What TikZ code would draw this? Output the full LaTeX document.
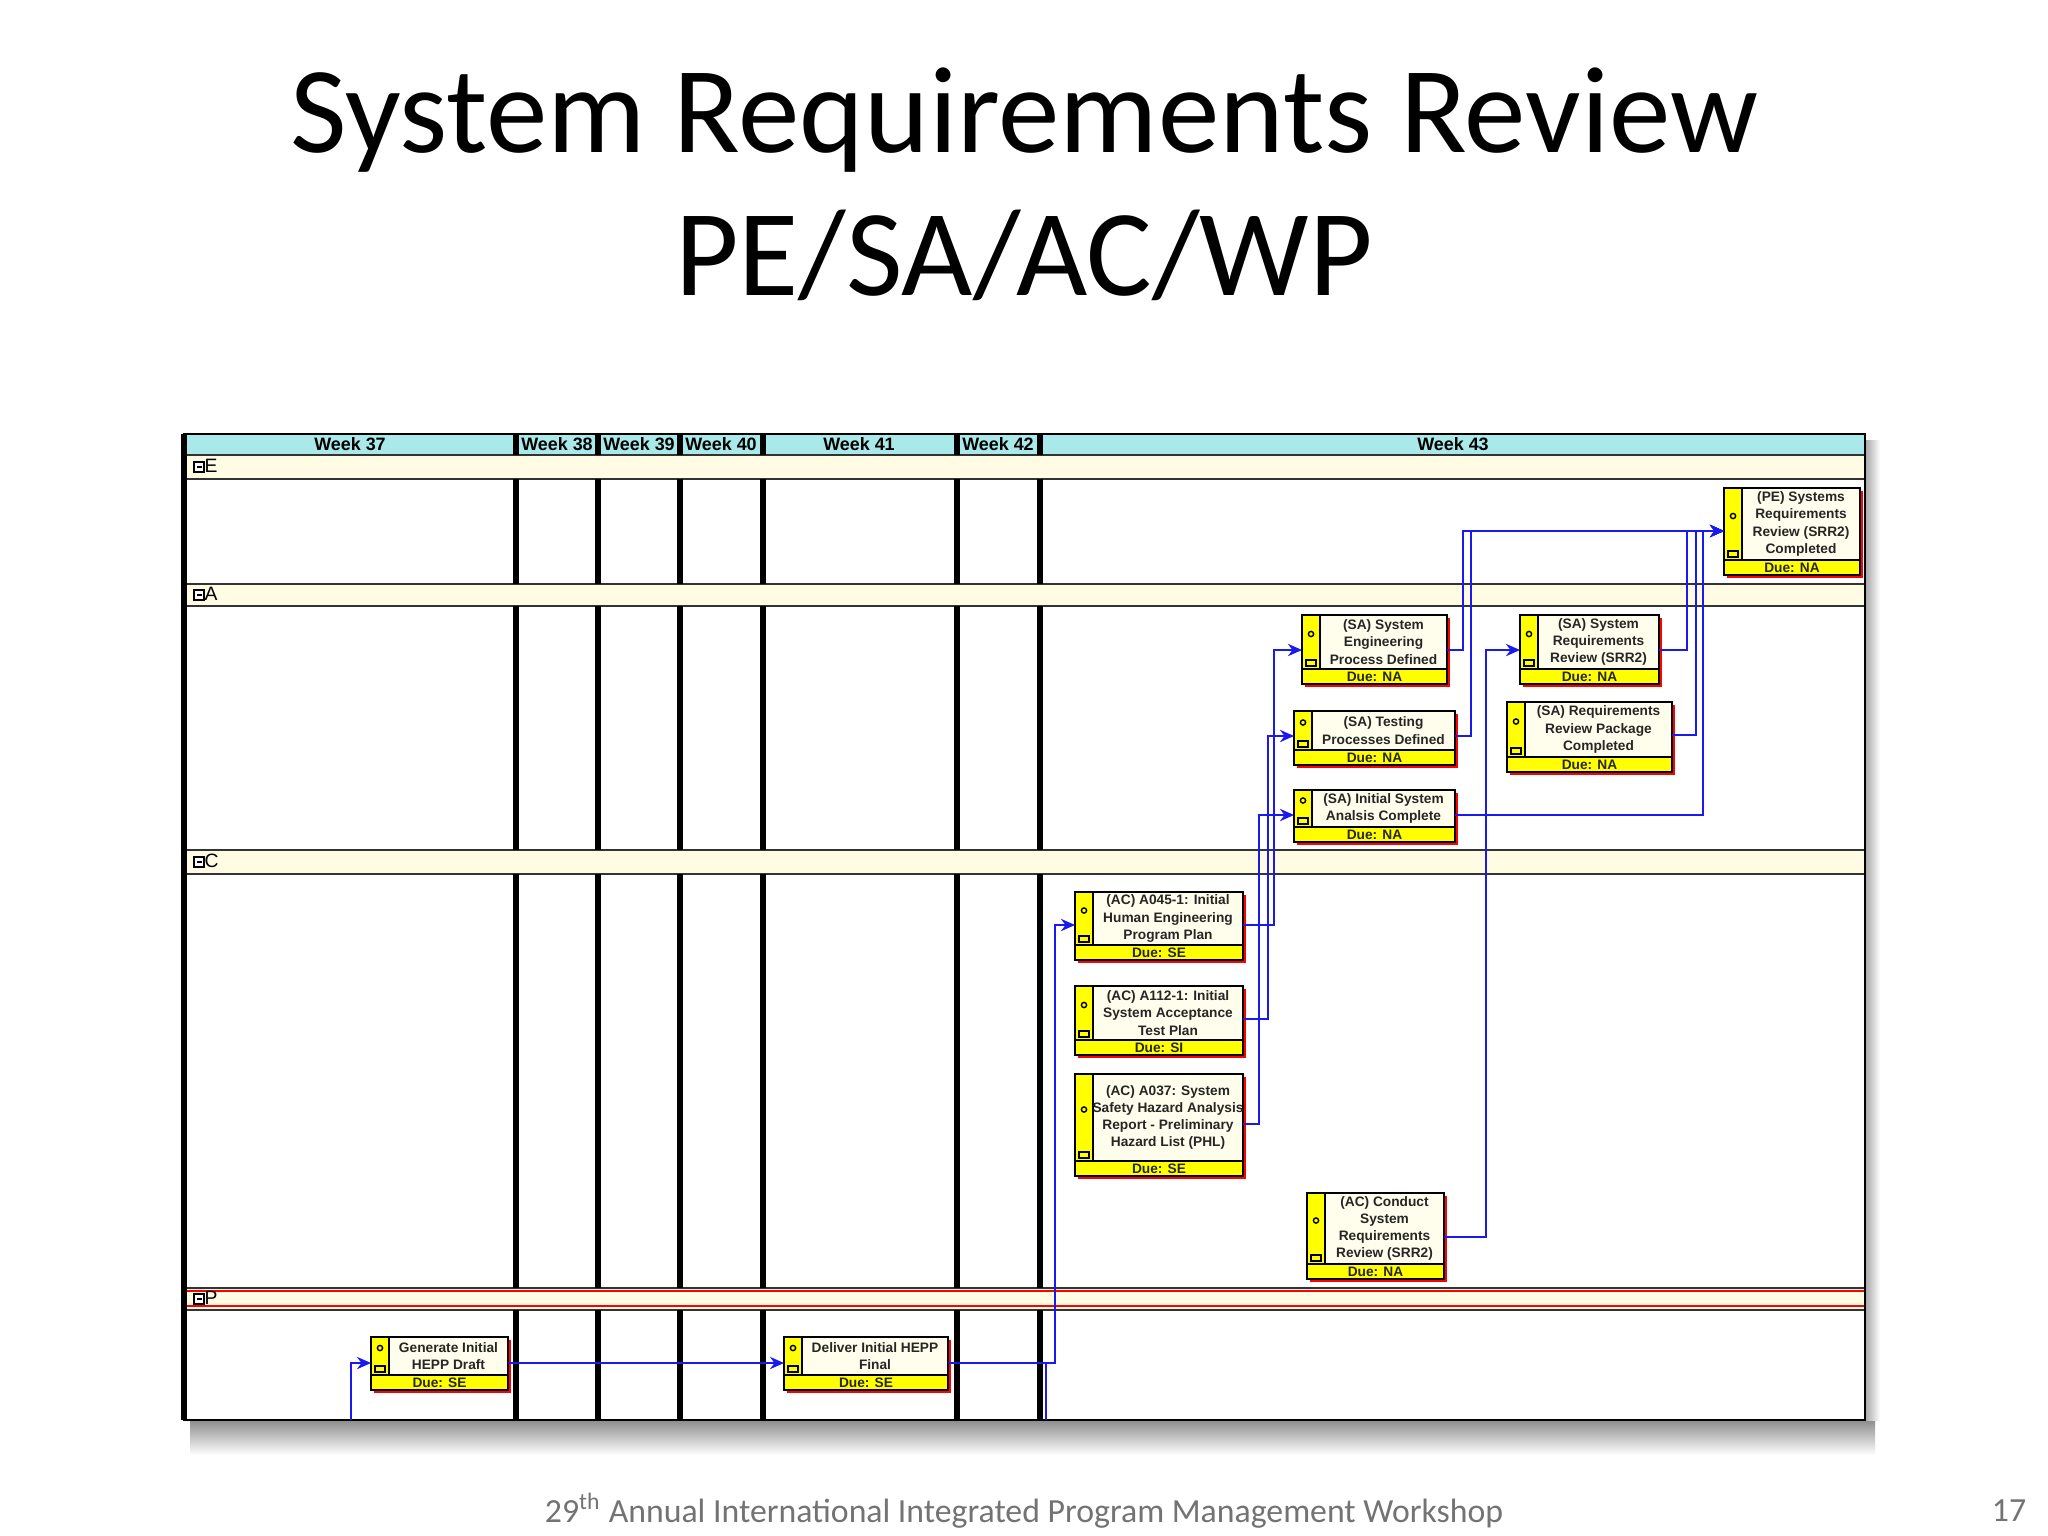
\documentclass[tikz,border=0pt]{standalone}
\usepackage{fontspec}
\setmainfont{Carlito}
\newfontfamily\boxfont{Liberation Sans}
\usetikzlibrary{arrows.meta}
\definecolor{hdr}{HTML}{A9E9E9}
\definecolor{band}{HTML}{FFFCE3}
\definecolor{cream}{HTML}{FFFDEB}
\definecolor{yel}{HTML}{FFFF00}
\definecolor{lnk}{HTML}{1A1AF0}
\tikzset{
  wk/.style={font=\boxfont\bfseries\fontsize{5.1}{6}\selectfont},
  divider/.style={line width=1.6pt},
  link/.style={draw=lnk,line width=0.55pt},
  arr/.style={link,-{Stealth[length=4pt,width=3.5pt]}},
  btxt/.style={font=\boxfont\bfseries\fontsize{3.9}{4.9}\selectfont,align=center,inner sep=0pt,text=black!85},
}
% name, x1, y1, x2, y2, port y, text, due
\newcommand\taskbox[8]{%
  \fill[red] (#2+3,#3+3) rectangle (#4+3,#5+3);
  \draw[fill=yel,line width=0.5pt] (#2,#3) rectangle (#4,#5);
  \draw[fill=cream,line width=0.5pt] (#2+18,#3) rectangle (#4,#5-15);
  \draw[line width=0.5pt] (#2,#5-15) -- (#4,#5-15);
  \draw[line width=0.4pt] (#2+9,{(#3+#5-15)/2-8}) circle[radius=2.6];
  \draw[line width=0.4pt] (#2+4,#5-24) rectangle (#2+14,#5-18);
  \node[btxt] (#1) at ({(#2+18+#4)/2},{(#3+#5-15)/2}) {#7};
  \node[btxt] (#1-due) at ({(#2+#4)/2},#5-7.5) {Due: #8};
  \coordinate (#1-in) at (#2,#6);
  \coordinate (#1-out) at (#4,#6);
}
\begin{document}
\begin{tikzpicture}[x=0.01cm,y=-0.01cm]
\useasboundingbox[fill=white] (0,0) rectangle (2048,1536);
% titles
\node[font=\fontsize{35}{40}\selectfont] (t1) at (1024,120) {System Requirements Review};
\node[font=\fontsize{35}{40}\selectfont] (t2) at (1024,255) {PE/SA/AC/WP};
\node[font=\fontsize{9.6}{11}\selectfont,text=black!55] (ft) at (1024,1511) {29\textsuperscript{th} Annual International Integrated Program Management Workshop};
\node[font=\fontsize{9.6}{11}\selectfont,text=black!55] (pg) at (2009,1511) {17};
% shadow
\shade[top color=black!45,bottom color=white] (190,1420) rectangle (1875,1455);
\shade[left color=black!35,right color=white] (1865,440) rectangle (1880,1420);
% chart
\fill[white] (184,434) rectangle (1865,1420);
\fill[hdr] (184,434) rectangle (1865,455);
\foreach \a/\b in {455/479,584/606,850/874,1288/1310}{
  \fill[band] (184,\a) rectangle (1865,\b);
  \draw[line width=0.6pt,black!80] (184,\a) -- (1865,\a);
  \draw[line width=0.6pt,black!80] (184,\b) -- (1865,\b);
}
\draw[red,line width=0.8pt] (184,1291) -- (1865,1291);
\draw[red,line width=0.8pt] (184,1306) -- (1865,1306);
\draw[line width=0.6pt] (184,434) rectangle (1865,1420);
% dividers
\foreach \x in {516,598,680,763,957,1040}{
  \draw[divider] (\x,434) -- (\x,455);
  \draw[divider] (\x,479) -- (\x,584);
  \draw[divider] (\x,606) -- (\x,850);
  \draw[divider] (\x,874) -- (\x,1288);
  \draw[divider] (\x,1310) -- (\x,1420);
}
\draw[divider] (184,434) -- (184,1420);
\foreach \x/\t in {350/Week 37,557/Week 38,639/Week 39,721/Week 40,859/Week 41,998/Week 42,1453/Week 43}
  \node[wk] at (\x,444.5) {\t};
\foreach \y/\t in {467/E,595/A,862/C,1299/P}{
  \draw[line width=0.4pt,fill=white] (194,\y-5) rectangle (204,\y+5);
  \draw[line width=0.4pt] (196.5,\y) -- (201.5,\y);
  \node[font=\boxfont\fontsize{5.5}{6}\selectfont,anchor=west,inner sep=0pt] at (204,\y-1) {\t};
}
% boxes
\taskbox{pe}{1724}{488}{1860}{575}{531}{(PE) Systems\\Requirements\\Review (SRR2)\\Completed}{NA}
\taskbox{se}{1302}{615}{1447}{684}{650}{(SA) System\\Engineering\\Process Defined}{NA}
\taskbox{srr}{1520}{615}{1659}{684}{650}{(SA) System\\Requirements\\Review (SRR2)}{NA}
\taskbox{tst}{1294}{711}{1455}{765}{736}{(SA) Testing\\Processes Defined}{NA}
\taskbox{pkg}{1507}{702}{1672}{772}{735}{(SA) Requirements\\Review Package\\Completed}{NA}
\taskbox{ini}{1294}{790}{1455}{842}{815}{(SA) Initial System\\Analsis Complete}{NA}
\taskbox{a45}{1075}{892}{1243}{960}{925}{(AC) A045-1: Initial\\Human Engineering\\Program Plan}{SE}
\taskbox{a112}{1075}{986}{1243}{1055}{1019}{(AC) A112-1: Initial\\System Acceptance\\Test Plan}{SI}
\taskbox{a37}{1075}{1074}{1243}{1176}{1124}{(AC) A037:  System\\Safety Hazard Analysis\\Report - Preliminary\\Hazard List (PHL)}{SE}
\taskbox{cnd}{1307}{1193}{1444}{1279}{1237}{(AC) Conduct\\System\\Requirements\\Review (SRR2)}{NA}
\taskbox{gen}{371}{1337}{508}{1390}{1363}{Generate Initial\\HEPP Draft}{SE}
\taskbox{del}{784}{1337}{948}{1390}{1363}{Deliver Initial HEPP\\Final}{SE}
% connectors
\coordinate (g0) at (351,1420);
\coordinate (d0) at (1046,1420);
\coordinate (dv) at (1055,925);
\draw[arr] (g0) |- (gen-in);
\draw[arr] (gen-out) -- (del-in);
\draw[link] (del-out) -| (d0);
\draw[arr] (del-out) -| (dv) -- (a45-in);
\coordinate (v1) at (1274,650);
\coordinate (v2) at (1268,736);
\coordinate (v3) at (1259,815);
\draw[arr] (a45-out) -| (v1) -- (se-in);
\draw[arr] (a112-out) -| (v2) -- (tst-in);
\draw[arr] (a37-out) -| (v3) -- (ini-in);
\coordinate (w1) at (1463,531);
\coordinate (w2) at (1471,531);
\coordinate (w3) at (1703,531);
\coordinate (w4) at (1687,531);
\coordinate (w5) at (1696,531);
\draw[arr] (se-out) -| (w1) -- (pe-in);
\draw[arr] (tst-out) -| (w2) -- (pe-in);
\draw[arr] (ini-out) -| (w3) -- (pe-in);
\draw[arr] (srr-out) -| (w4) -- (pe-in);
\draw[arr] (pkg-out) -| (w5) -- (pe-in);
\coordinate (u1) at (1486,650);
\draw[arr] (cnd-out) -| (u1) -- (srr-in);
\end{tikzpicture}
\end{document}
